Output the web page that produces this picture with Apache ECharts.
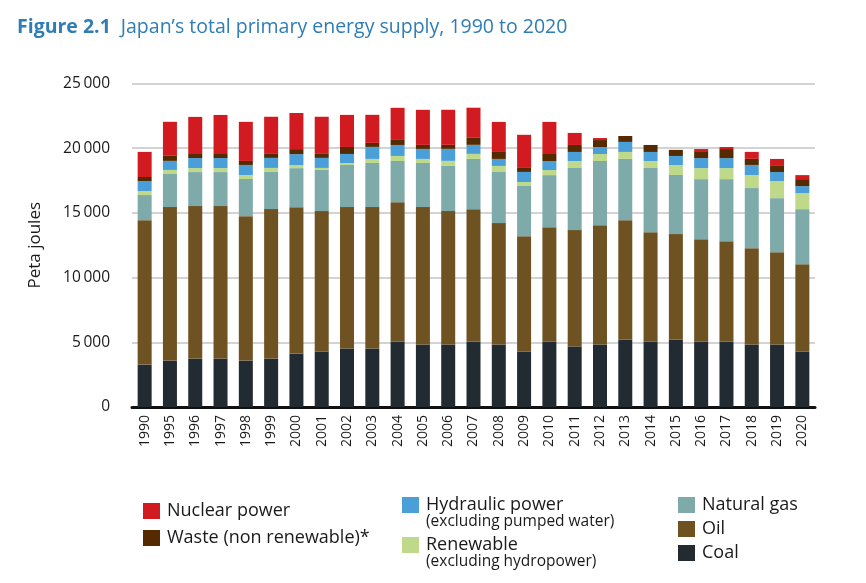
<!DOCTYPE html>
<html>
<head>
<meta charset="utf-8">
<script src="https://cdn.jsdelivr.net/npm/echarts@6/dist/echarts.min.js"></script>
<style>
  html, body { margin: 0; padding: 0; background: #fff; }
  #main { width: 866px; height: 583px; }
</style>
</head>
<body>
<div id="main"></div>
<script>
// 年份
var years = ['1990', '1995', '1996', '1997', '1998', '1999', '2000', '2001', '2002', '2003', '2004', '2005', '2006', '2007',
    '2008', '2009', '2010', '2011', '2012', '2013', '2014', '2015', '2016', '2017', '2018', '2019', '2020'];

// Peta joules
var coal = [3280, 3590, 3745, 3745, 3590, 3745, 4130, 4290, 4520, 4520, 5060, 4830, 4830, 5060, 4830, 4290, 5060, 4680,
    4830, 5220, 5060, 5220, 5060, 5060, 4830, 4830, 4290];
var oil = [11160, 11860, 11780, 11780, 11160, 11550, 11310, 10850, 10930, 10930, 10770, 10620, 10310, 10230, 9380, 8910,
    8830, 8990, 9220, 9220, 8450, 8140, 7900, 7750, 7440, 7130, 6740];
var gas = [1940, 2560, 2630, 2630, 2870, 2870, 3020, 3180, 3250, 3410, 3180, 3410, 3490, 3880, 3950, 3880, 4030, 4800,
    4960, 4730, 4960, 4570, 4650, 4800, 4650, 4180, 4260];
var renewable = [310, 310, 310, 310, 310, 310, 230, 155, 155, 310, 390, 310, 390, 390, 470, 310, 390, 540, 540, 540, 540,
    770, 850, 850, 1010, 1320, 1240];
var hydraulic = [775, 700, 775, 775, 775, 775, 850, 775, 700, 930, 850, 775, 930, 700, 540, 775, 700, 700, 540, 775, 700,
    700, 775, 775, 775, 700, 540];
var waste = [310, 390, 310, 310, 310, 310, 390, 310, 540, 310, 390, 310, 310, 540, 540, 310, 540, 540, 540, 460, 540, 470,
    470, 700, 470, 470, 540];
var nuclear = [1940, 2630, 2870, 3020, 3020, 2870, 2790, 2870, 2480, 2170, 2480, 2710, 2710, 2330, 2320, 2560, 2480, 930,
    155, 0, 0, 0, 230, 155, 540, 540, 310];

var yTicks = [0, 5000, 10000, 15000, 20000, 25000];

var font = 'Open Sans';
var txt = '#1a1a1a';

function thin(v) {
    return String(v).replace(/\B(?=(\d{3})+(?!\d))/g, '\u2009');
}

function bar(name, data, color) {
    return {
        name: name,
        type: 'bar',
        stack: 'tpes',
        barWidth: 14,
        data: data,
        itemStyle: { color: color },
        emphasis: { disabled: true }
    };
}

// legend: one block per item so each sits where the figure has it
function oneLegend(name, left, top, twoLine) {
    var lg = {
        data: [name],
        left: left,
        top: top,
        itemWidth: 17,
        itemHeight: 16,
        icon: 'rect',
        selectedMode: false,
        textStyle: {
            fontFamily: font,
            fontSize: 18,
            lineHeight: 16,
            color: txt,
            padding: [0, 0, 0, 2]
        }
    };
    if (twoLine) {
        lg.formatter = function(n) {
            var parts = n.split('\n');
            return '{a|' + parts[0] + '}\n{b|' + parts[1] + '}';
        };
        lg.textStyle.padding = [16, 0, 0, 2];
        lg.textStyle.rich = {
            a: { fontFamily: font, fontSize: 18, lineHeight: 18, color: txt },
            b: { fontFamily: font, fontSize: 15.5, lineHeight: 16, color: txt }
        };
    }
    return lg;
}

var hydroName = 'Hydraulic power\n(excluding pumped water)';
var renewName = 'Renewable\n(excluding hydropower)';

var myChart = echarts.init(document.getElementById('main'));

option = {
    animation: false,
    backgroundColor: '#fff',
    title: {
        text: '{b|Figure 2.1}  {n|Japan\u2019s total primary energy supply, 1990 to 2020}',
        left: 12,
        top: 12,
        textStyle: {
            rich: {
                b: { fontFamily: font, fontSize: 19.5, fontWeight: 'bold', color: '#2f7db5' },
                n: { fontFamily: font, fontSize: 19.5, fontWeight: 'normal', color: '#2f7db5' }
            }
        }
    },
    legend: [
        oneLegend('Nuclear power', 138, 497),
        oneLegend('Waste (non renewable)*', 138, 524),
        oneLegend(hydroName, 397, 475, true),
        oneLegend(renewName, 397, 515, true),
        oneLegend('Natural gas', 673, 491),
        oneLegend('Oil', 673, 515),
        oneLegend('Coal', 673, 539)
    ],
    grid: {
        left: 132,
        right: 51,
        top: 83.5,
        bottom: 176
    },
    xAxis: {
        type: 'category',
        data: years,
        axisLine: { lineStyle: { color: '#111', width: 3 } },
        axisTick: { show: false },
        axisLabel: {
            rotate: 90,
            margin: 8,
            fontFamily: font,
            fontSize: 14,
            color: txt
        }
    },
    yAxis: {
        type: 'value',
        min: yTicks[0],
        max: yTicks[yTicks.length - 1],
        interval: 5000,
        name: 'Peta joules',
        nameLocation: 'middle',
        nameGap: 88,
        nameTextStyle: { fontFamily: font, fontSize: 17, color: txt },
        axisLine: { show: false },
        axisTick: { show: false },
        axisLabel: {
            margin: 22,
            fontFamily: font,
            fontSize: 15.5,
            color: txt,
            formatter: thin
        },
        splitLine: { lineStyle: { color: '#c4c4c4', width: 1.5 } }
    },
    series: [
        bar('Coal', coal, '#212b31'),
        bar('Oil', oil, '#6f5222'),
        bar('Natural gas', gas, '#7eaaaa'),
        bar(renewName, renewable, '#bfd98a'),
        bar(hydroName, hydraulic, '#4b9fd9'),
        bar('Waste (non renewable)*', waste, '#552a00'),
        bar('Nuclear power', nuclear, '#d21b21')
    ]
};

myChart.setOption(option);
</script>
</body>
</html>
